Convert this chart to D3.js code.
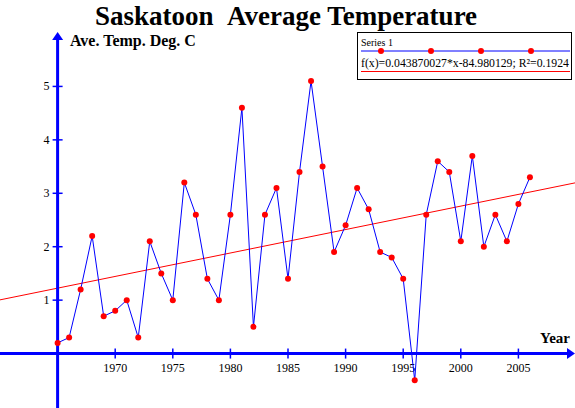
<!DOCTYPE html>
<html><head><meta charset="utf-8">
<script src="https://cdn.jsdelivr.net/npm/d3@7"></script>
<style>html,body{margin:0;padding:0;background:#fff;overflow:hidden}svg{display:block}</style>
</head><body>
<script>
const years = d3.range(1965, 2007);
const temps = [0.2,0.3,1.2,2.2,0.7,0.8,1.0,0.3,2.1,1.5,1.0,3.2,2.6,1.4,1.0,2.6,4.6,0.5,2.6,3.1,1.4,3.4,5.1,3.5,1.9,2.4,3.1,2.7,1.9,1.8,1.4,-0.5,2.6,3.6,3.4,2.1,3.7,2.0,2.6,2.1,2.8,3.3];
const xTicks = [1970,1975,1980,1985,1990,1995,2000,2005];
const yTicks = [1,2,3,4,5];
const slope = 0.043870027, intercept = -84.980129;
const title = "Saskatoon\u00a0\u00a0Average Temperature";
const yLabel = "Ave. Temp. Deg. C";
const xLabel = "Year";
const legendSeries = "Series 1";
const legendFit = "f(x)=0.043870027*x-84.980129; R\u00b2=0.1924";

const W = 575, H = 408;
const svg = d3.select("body").append("svg").attr("width", W).attr("height", H);
const x = d3.scaleLinear().domain([1960, 2010]).range([0, 576]);
const y = d3.scaleLinear().domain([-1, 6]).range([407, 33]);
const font = "'Liberation Serif','Times New Roman',serif";
const blue = "#0000ff", red = "#ff0000";

// title
svg.append("text").attr("x", 286).attr("y", 25).attr("text-anchor", "middle")
  .attr("font-family", font).attr("font-weight", "bold").attr("font-size", 27)
  .text(title);

// trend line
svg.append("line").attr("x1", x(1960)).attr("x2", x(2010))
  .attr("y1", y(slope*1960+intercept)).attr("y2", y(slope*2010+intercept))
  .attr("stroke", red).attr("stroke-width", 1);

// axes
const x0 = x(1965), y0 = y(0);
svg.append("line").attr("x1", x0).attr("x2", x0).attr("y1", 36).attr("y2", H)
  .attr("stroke", blue).attr("stroke-width", 3);
svg.append("path").attr("d", `M${x0},32 L${x0-5.5},40 L${x0+5.5},40 Z`).attr("fill", blue);
svg.append("line").attr("x1", 0).attr("x2", 570).attr("y1", y0).attr("y2", y0)
  .attr("stroke", blue).attr("stroke-width", 3);
svg.append("path").attr("d", `M575,${y0} L567,${y0-5.5} L567,${y0+5.5} Z`).attr("fill", blue);

// x ticks
const xg = svg.append("g");
xg.selectAll("line").data(xTicks).join("line")
  .attr("x1", d => x(d)).attr("x2", d => x(d)).attr("y1", y0-5).attr("y2", y0+5)
  .attr("stroke", blue).attr("stroke-width", 1.5);
xg.selectAll("text").data(xTicks).join("text")
  .attr("x", d => x(d)).attr("y", y0+18).attr("text-anchor", "middle")
  .attr("font-family", font).attr("font-size", 12).text(d => d);

// y ticks
const yg = svg.append("g");
yg.selectAll("line").data(yTicks).join("line")
  .attr("x1", x0-5).attr("x2", x0+5).attr("y1", d => y(d)).attr("y2", d => y(d))
  .attr("stroke", blue).attr("stroke-width", 1.5);
yg.selectAll("text").data(yTicks).join("text")
  .attr("x", x0-8).attr("y", d => y(d)+4).attr("text-anchor", "end")
  .attr("font-family", font).attr("font-size", 12).text(d => d);

// axis labels
svg.append("text").attr("x", 70).attr("y", 46).attr("font-family", font)
  .attr("font-weight", "bold").attr("font-size", 16).text(yLabel);
svg.append("text").attr("x", 540).attr("y", 343).attr("font-family", font)
  .attr("font-weight", "bold").attr("font-size", 15).text(xLabel);

// series
const pts = years.map((yr, i) => [yr, temps[i]]);
svg.append("path").datum(pts)
  .attr("d", d3.line().x(d => x(d[0])).y(d => y(d[1])))
  .attr("fill", "none").attr("stroke", blue).attr("stroke-width", 1);
svg.append("g").selectAll("circle").data(pts).join("circle")
  .attr("cx", d => x(d[0])).attr("cy", d => y(d[1])).attr("r", 3).attr("fill", red);

// legend
const lg = svg.append("g");
lg.append("rect").attr("x", 357.5).attr("y", 32.5).attr("width", 214).attr("height", 47)
  .attr("fill", "#fff").attr("stroke", "#000").attr("stroke-width", 1);
lg.append("text").attr("x", 361).attr("y", 46).attr("font-family", font)
  .attr("font-size", 10).text(legendSeries);
lg.append("line").attr("x1", 361).attr("x2", 570).attr("y1", 51).attr("y2", 51)
  .attr("stroke", blue).attr("stroke-width", 1);
lg.selectAll("circle").data([381, 431, 481, 531]).join("circle")
  .attr("cx", d => d).attr("cy", 51).attr("r", 3).attr("fill", red);
lg.append("text").attr("x", 361).attr("y", 67).attr("font-family", font)
  .attr("font-size", 12).attr("textLength", 208).attr("lengthAdjust", "spacingAndGlyphs").text(legendFit);
lg.append("line").attr("x1", 361).attr("x2", 570).attr("y1", 71.5).attr("y2", 71.5)
  .attr("stroke", red).attr("stroke-width", 1);
</script>
</body></html>
